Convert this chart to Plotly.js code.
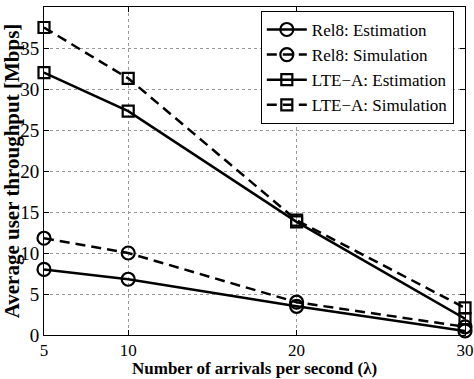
<!DOCTYPE html>
<html><head><meta charset="utf-8">
<script src="https://cdn.plot.ly/plotly-3.0.1.min.js"></script>
<style>body{margin:0;padding:0;background:#fff}#c{width:474px;height:379px}</style>
</head><body><div id="c"></div>
<script>
const arrivals = [5, 10, 20, 30];
const rel8Est = [8.0, 6.8, 3.5, 0.5];
const rel8Sim = [11.8, 10.0, 4.0, 1.0];
const lteEst = [32.0, 27.3, 13.8, 2.0];
const lteSim = [37.5, 31.3, 14.0, 3.3];
const names = ['Rel8: Estimation', 'Rel8: Simulation', 'LTE\u2212A: Estimation', 'LTE\u2212A: Simulation'];
const xTicks = [5, 10, 20, 30];
const yTicks = [0, 5, 10, 15, 20, 25, 30, 35, 40];
const xTitle = '<b>Number of arrivals per second (λ)</b>';
const yTitle = '<b>Average user throughput [Mbps]</b>';

function tr(y, name, dash, sym, size) {
  return {x: arrivals, y: y, name: name, mode: 'lines+markers', cliponaxis: false,
    line: {color: '#000', width: 2.5, dash: dash},
    marker: {symbol: sym, size: size, color: '#000', line: {color: '#000', width: 2.2}}};
}
const data = [
  tr(rel8Est, names[0], 'solid', 'circle-open', 13),
  tr(rel8Sim, names[1], '10px,6px', 'circle-open', 13),
  tr(lteEst, names[2], 'solid', 'square-open', 11),
  tr(lteSim, names[3], '10px,6px', 'square-open', 11)
];
const font = {family: '"Liberation Serif", "Times New Roman", serif', color: '#000'};
const layout = {
  width: 474, height: 379,
  margin: {l: 44, r: 9, t: 7, b: 44},
  paper_bgcolor: '#fff', plot_bgcolor: '#fff',
  font: Object.assign({size: 17}, font),
  showlegend: true,
  legend: {x: 0.515, y: 0.988, xanchor: 'left', yanchor: 'top', bgcolor: '#fff',
    bordercolor: '#000', borderwidth: 1, font: Object.assign({size: 17}, font),
    tracegroupgap: 0, itemwidth: 40},
  xaxis: {range: [5, 30], tickvals: xTicks, ticktext: xTicks.map(String),
    showgrid: true, gridcolor: '#999', griddash: 'dot', gridwidth: 1,
    zeroline: false, showline: true, linecolor: '#000', linewidth: 1, mirror: 'ticks',
    ticks: 'inside', ticklen: 5, tickcolor: '#000',
    tickfont: Object.assign({size: 17}, font)},
  yaxis: {range: [0, 40], tickvals: yTicks, ticktext: yTicks.map(String),
    showgrid: true, gridcolor: '#999', griddash: 'dot', gridwidth: 1,
    zeroline: false, showline: true, linecolor: '#000', linewidth: 1, mirror: 'ticks',
    ticks: 'inside', ticklen: 5, tickcolor: '#000',
    tickfont: Object.assign({size: 19}, font),
    title: {text: yTitle, font: Object.assign({size: 21}, font), standoff: 2}},
  annotations: [{text: xTitle, xref: 'paper', yref: 'paper', x: 0.5, y: 0,
    xanchor: 'center', yanchor: 'bottom', showarrow: false, yshift: -45,
    font: Object.assign({size: 17}, font)}]
};
Plotly.newPlot('c', data, layout, {displayModeBar: false, staticPlot: true});
</script></body></html>
